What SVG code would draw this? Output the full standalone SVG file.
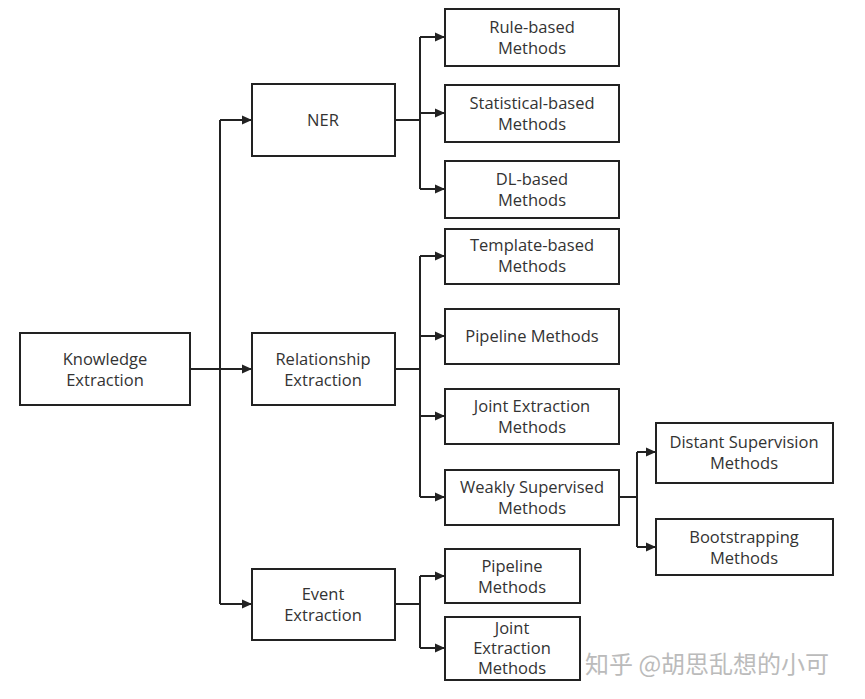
<svg xmlns="http://www.w3.org/2000/svg" width="865" height="699" viewBox="0 0 865 699">
<defs>
<marker id="a" markerWidth="10" markerHeight="10" refX="9" refY="5" orient="auto" markerUnits="userSpaceOnUse"><path d="M0,0.5 L10,5 L0,9.5 Z" fill="#222"/></marker>
<style>
rect{fill:#fff;stroke:#222;stroke-width:2}
text{font-family:"Open Sans","Noto Sans",sans-serif;font-size:16.5px;fill:#333;text-anchor:middle}
.c{fill:none;stroke:#222;stroke-width:2}
.wm{font-family:"Noto Sans CJK SC",sans-serif;font-size:24px;fill:#bbb;text-anchor:start}
</style>
</defs>
<rect x="0" y="0" width="865" height="699" style="fill:#fff;stroke:none"/>
<g id="connectors">
<path class="c" d="M190,369 H220 M220,120 V604"/>
<path class="c" d="M220,120 H251" marker-end="url(#a)"/>
<path class="c" d="M220,369 H251" marker-end="url(#a)"/>
<path class="c" d="M220,604 H251" marker-end="url(#a)"/>
<path class="c" d="M395,120 H420 M420,37 V189"/>
<path class="c" d="M420,37 H444" marker-end="url(#a)"/>
<path class="c" d="M420,113 H444" marker-end="url(#a)"/>
<path class="c" d="M420,189 H444" marker-end="url(#a)"/>
<path class="c" d="M395,369 H420 M420,256 V497"/>
<path class="c" d="M420,256 H444" marker-end="url(#a)"/>
<path class="c" d="M420,336 H444" marker-end="url(#a)"/>
<path class="c" d="M420,416 H444" marker-end="url(#a)"/>
<path class="c" d="M420,497 H444" marker-end="url(#a)"/>
<path class="c" d="M619,497 H637 M637,452 V547"/>
<path class="c" d="M637,452 H655" marker-end="url(#a)"/>
<path class="c" d="M637,547 H655" marker-end="url(#a)"/>
<path class="c" d="M395,604 H420 M420,576 V648"/>
<path class="c" d="M420,576 H444" marker-end="url(#a)"/>
<path class="c" d="M420,648 H444" marker-end="url(#a)"/>
</g>
<g id="ke"><rect x="20" y="333" width="170" height="72"/><text x="105" y="365">Knowledge</text><text x="105" y="386">Extraction</text></g>
<g id="ner"><rect x="252" y="84" width="143" height="72"/><text x="323" y="126">NER</text></g>
<g id="re"><rect x="252" y="333" width="143" height="72"/><text x="323" y="365">Relationship</text><text x="323" y="386">Extraction</text></g>
<g id="ee"><rect x="252" y="569" width="143" height="71"/><text x="323" y="600">Event</text><text x="323" y="621">Extraction</text></g>
<g id="rule"><rect x="445" y="9" width="174" height="57"/><text x="532" y="33">Rule-based</text><text x="532" y="54">Methods</text></g>
<g id="stat"><rect x="445" y="85" width="174" height="57"/><text x="532" y="109">Statistical-based</text><text x="532" y="130">Methods</text></g>
<g id="dl"><rect x="445" y="161" width="174" height="57"/><text x="532" y="185">DL-based</text><text x="532" y="206">Methods</text></g>
<g id="tmpl"><rect x="445" y="229" width="174" height="55"/><text x="532" y="251">Template-based</text><text x="532" y="272">Methods</text></g>
<g id="pipe"><rect x="445" y="309" width="174" height="55"/><text x="532" y="342">Pipeline Methods</text></g>
<g id="joint"><rect x="445" y="389" width="174" height="55"/><text x="532" y="412">Joint Extraction</text><text x="532" y="433">Methods</text></g>
<g id="weak"><rect x="445" y="470" width="174" height="55"/><text x="532" y="493">Weakly Supervised</text><text x="532" y="514">Methods</text></g>
<g id="distant"><rect x="656" y="423" width="177" height="60"/><text x="744" y="448">Distant Supervision</text><text x="744" y="469">Methods</text></g>
<g id="boot"><rect x="656" y="519" width="177" height="56"/><text x="744" y="543">Bootstrapping</text><text x="744" y="564">Methods</text></g>
<g id="epipe"><rect x="445" y="549" width="135" height="54"/><text x="512" y="572">Pipeline</text><text x="512" y="593">Methods</text></g>
<g id="ejoint"><rect x="445" y="617" width="135" height="63"/><text x="512" y="634">Joint</text><text x="512" y="654">Extraction</text><text x="512" y="674">Methods</text></g>
<text class="wm" x="585" y="673">知乎 @胡思乱想的小可</text>
</svg>
